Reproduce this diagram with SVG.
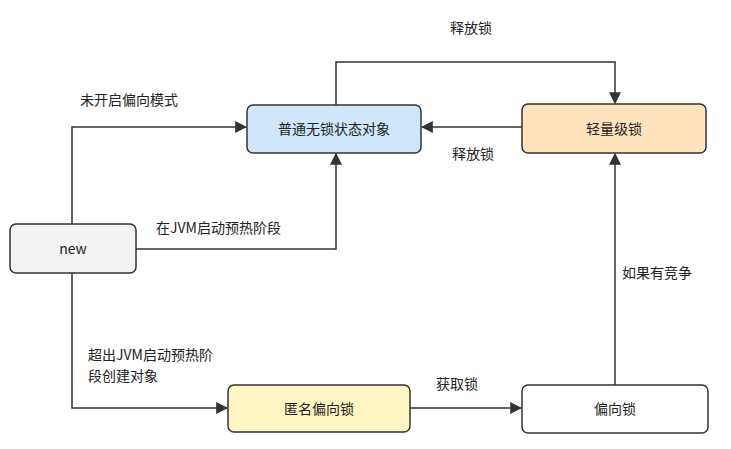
<svg xmlns="http://www.w3.org/2000/svg" width="731" height="449" viewBox="0 0 731 449">
<style>
text{font-family:"Noto Sans CJK SC","Noto Sans",sans-serif;font-size:14px;fill:#222}
.n{stroke:#333;stroke-width:1.5}
.c{fill:none;stroke:#333;stroke-width:1.5;marker-end:url(#a)}
</style>
<defs><marker id="a" viewBox="0 0 10 10" refX="9" refY="5" markerWidth="8" markerHeight="8" orient="auto"><path d="M0,0L10,5L0,10z" fill="#333"/></marker></defs>
<rect width="731" height="449" fill="#fff"/>
<g id="connectors">
<path class="c" d="M72,224V127H246"/>
<path class="c" d="M136,249H336V154"/>
<path class="c" d="M72,273V408H227"/>
<path class="c" d="M410,408H521"/>
<path class="c" d="M615,385V154"/>
<path class="c" d="M522,127H422"/>
<path class="c" d="M336,105V62H615V103"/>
<text x="80" y="105">未开启偏向模式</text>
<text x="156" y="233">在JVM启动预热阶段</text>
<text x="88" y="360">超出JVM启动预热阶</text>
<text x="88" y="381">段创建对象</text>
<text x="436" y="389">获取锁</text>
<text x="622" y="278">如果有竞争</text>
<text x="452" y="159">释放锁</text>
<text x="450" y="33">释放锁</text>
</g>
<g id="n1"><rect class="n" x="247" y="105" width="174" height="48" rx="6" fill="#cfe6fb"/><text x="334" y="134" text-anchor="middle">普通无锁状态对象</text></g>
<g id="n2"><rect class="n" x="522" y="104" width="184" height="49" rx="6" fill="#ffe3bd"/><text x="614" y="134" text-anchor="middle">轻量级锁</text></g>
<g id="n3"><rect class="n" x="10" y="224" width="126" height="49" rx="6" fill="#f3f3f3"/><text x="73" y="254" text-anchor="middle">new</text></g>
<g id="n4"><rect class="n" x="228" y="385" width="182" height="47" rx="6" fill="#fff4c3"/><text x="319" y="414" text-anchor="middle">匿名偏向锁</text></g>
<g id="n5"><rect class="n" x="522" y="385" width="186" height="48" rx="6" fill="#fff"/><text x="615" y="414" text-anchor="middle">偏向锁</text></g>
</svg>
